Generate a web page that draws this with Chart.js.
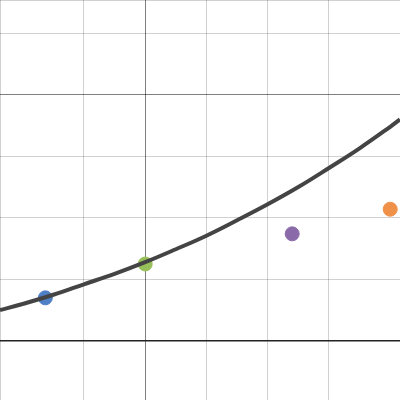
<!DOCTYPE html>
<html>
<head>
<meta charset="utf-8">
<script src="https://cdn.jsdelivr.net/npm/chart.js@4/dist/chart.umd.min.js"></script>
<style>
  html, body { margin: 0; padding: 0; background: #fff; overflow: hidden; }
  #wrap { width: 400px; height: 400px; }
</style>
</head>
<body>
<div id="wrap"><canvas id="c"></canvas></div>
<script>
// curve samples
const curveX = [-2.37, -2, -1.5, -1, -0.5, 0, 0.5, 1, 1.5, 2, 2.5, 3, 3.5, 4, 4.16];
const curveY = [0.5, 0.6, 0.75, 0.92, 1.09, 1.28, 1.49, 1.71, 1.96, 2.22, 2.5, 2.81, 3.13, 3.48, 3.6];

// coloured points
const pointX = [-1.63, 0, 2.4, 4.0];
const pointY = [0.7, 1.25, 1.74, 2.14];
const pointColors = ['#4f7fc4', '#97bf5a', '#8a6aa8', '#f0914a'];

const xRange = [-2.37, 4.16];
const yRange = [-0.96, 5.54];

function gridColor(ctx, isY) {
    const v = ctx.tick.value;
    if (isY && Math.abs(v) < 1e-9) return '#222';
    if (Math.abs(v % 4) < 1e-9) return 'rgba(0,0,0,0.5)';
    return 'rgba(0,0,0,0.18)';
}

function axis(range, isY) {
    return {
        type: 'linear', min: range[0], max: range[1], offset: false,
        ticks: { display: false, stepSize: 1, padding: 0 },
        grid: {
            color: c => gridColor(c, isY),
            lineWidth: c => (isY && Math.abs(c.tick.value) < 1e-9) ? 1.5 : 1,
            drawTicks: false, tickLength: 0
        },
        border: { display: false }
    };
}

new Chart(document.getElementById('c'), {
    type: 'scatter',
    data: {
        datasets: [
            {
                type: 'line',
                data: curveX.map((x, i) => ({ x: x, y: curveY[i] })),
                borderColor: '#444',
                borderWidth: 4,
                pointRadius: 0,
                tension: 0.4,
                fill: false
            },
            {
                data: pointX.map((x, i) => ({ x: x, y: pointY[i] })),
                backgroundColor: pointColors,
                borderColor: pointColors,
                pointRadius: 7
            }
        ]
    },
    options: {
        responsive: true,
        maintainAspectRatio: false,
        animation: false,
        layout: { padding: 0, autoPadding: false },
        plugins: { legend: { display: false }, tooltip: { enabled: false } },
        scales: { x: axis(xRange, false), y: axis(yRange, true) }
    }
});
</script>
</body>
</html>
